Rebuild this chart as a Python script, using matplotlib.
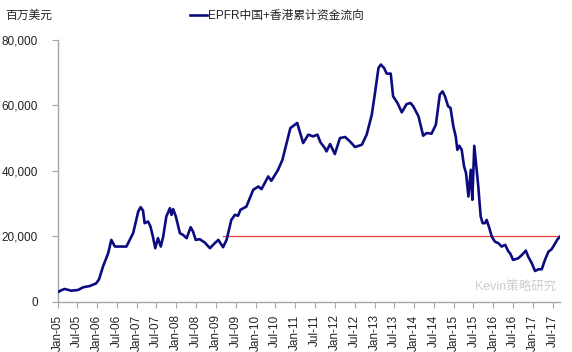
import matplotlib
matplotlib.use("Agg")
import matplotlib.pyplot as plt
import matplotlib.dates as mdates
import pandas as pd

plt.rcParams['font.family'] = ['Liberation Sans', 'Noto Sans CJK SC', 'DejaVu Sans']

dates = [
    "2005-01-01", "2005-02-06", "2005-03-07", "2005-05-08", "2005-07-09", "2005-08-25",
    "2005-10-27", "2005-12-24", "2006-01-19", "2006-02-24", "2006-04-13", "2006-05-12",
    "2006-06-14", "2006-07-28", "2006-09-28", "2006-11-29", "2007-01-15", "2007-02-06",
    "2007-02-28", "2007-03-15", "2007-04-16", "2007-05-08", "2007-05-30", "2007-06-21",
    "2007-07-16", "2007-08-11", "2007-09-02", "2007-10-01", "2007-11-03", "2007-11-18",
    "2007-12-03", "2007-12-28", "2008-01-19", "2008-02-03", "2008-03-03", "2008-04-05",
    "2008-05-12", "2008-06-03", "2008-06-28", "2008-08-04", "2008-09-20", "2008-11-06",
    "2008-12-20", "2009-01-22", "2009-03-07", "2009-04-08", "2009-05-22", "2009-06-24",
    "2009-07-23", "2009-08-14", "2009-10-08", "2009-12-10", "2010-01-26", "2010-02-24",
    "2010-04-27", "2010-05-26", "2010-07-27", "2010-09-05", "2010-11-17", "2011-01-19",
    "2011-03-15", "2011-05-01", "2011-06-14", "2011-07-24", "2011-08-22", "2011-10-01",
    "2011-10-16", "2011-11-18", "2012-01-01", "2012-02-17", "2012-04-05", "2012-05-19",
    "2012-07-05", "2012-09-06", "2012-10-20", "2012-12-06", "2013-01-05", "2013-02-06",
    "2013-02-28", "2013-03-29", "2013-04-23", "2013-05-30", "2013-06-21", "2013-07-31",
    "2013-09-09", "2013-10-23", "2013-11-28", "2013-12-24", "2014-02-10", "2014-03-25",
    "2014-04-27", "2014-06-10", "2014-07-20", "2014-08-25", "2014-09-20", "2014-10-12",
    "2014-11-10", "2014-12-02", "2014-12-28", "2015-01-19", "2015-02-03", "2015-02-21",
    "2015-03-15", "2015-04-06", "2015-04-24", "2015-05-16", "2015-06-07", "2015-06-21",
    "2015-07-09", "2015-07-31", "2015-08-15", "2015-09-06", "2015-09-24", "2015-10-16",
    "2015-10-31", "2015-11-25", "2015-12-17", "2016-01-15", "2016-02-17", "2016-03-17",
    "2016-04-19", "2016-05-19", "2016-06-03", "2016-07-01", "2016-08-18", "2016-09-20",
    "2016-10-26", "2016-11-17", "2016-12-20", "2017-01-19", "2017-02-21", "2017-03-22",
    "2017-04-20", "2017-05-23", "2017-06-21", "2017-07-24", "2017-08-15", "2017-09-06",
]
flows = [
    2960, 3600, 3970, 3450, 3660, 4480,
    4880, 5700, 6930, 10780, 14860, 18930,
    16900, 16900, 16900, 20970, 27570, 28900,
    27880, 24030, 24520, 22990, 19940, 16400,
    19450, 16900, 19940, 26050, 28600, 26560,
    28300, 26050, 22990, 20970, 20450, 19450,
    22800, 21460, 18930, 19140, 18100, 16400,
    17920, 18930, 16700, 18930, 25030, 26560,
    26300, 28090, 29100, 34200, 35200, 34400,
    38260, 36940, 40300, 43350, 53000, 54560,
    48450, 51000, 50470, 51000, 48640, 46920,
    45890, 48140, 45090, 49970, 50280, 48940,
    47230, 47930, 51000, 57000, 63700, 71350,
    72360, 71350, 69600, 69600, 62680, 60660,
    57800, 60300, 60660, 59620, 56570, 50680,
    51500, 51290, 54040, 63200, 64200, 62680,
    59620, 59130, 53520, 50470, 46400, 47600,
    46400, 41300, 39300, 32150, 40300, 31140,
    47600, 40300, 35200, 26050, 24030, 24030,
    25030, 22500, 19940, 18400, 17900, 16900,
    17400, 15360, 14860, 12820, 13340, 14350,
    15660, 13830, 11810, 9460, 9980, 9980,
    12820, 15360, 16090, 17920, 19140, 19940,
]
ref_dates = ["2009-03-07", "2017-09-06"]
ref_values = [20000, 20000]

series_label = "EPFR中国+香港累计资金流向"
unit_label = "百万美元"
watermark = "Kevin策略研究"
yticks = [0, 20000, 40000, 60000, 80000]

x = pd.to_datetime(dates)
xr = pd.to_datetime(ref_dates)

fig = plt.figure(figsize=(5.72, 3.52), dpi=100)
ax = fig.add_axes([57.5 / 572, 1 - 302 / 352, (560 - 57.5) / 572, (302 - 39.5) / 352])

ax.plot(xr, ref_values, color='#e8403a', lw=0.9, zorder=2)
line, = ax.plot(x, flows, color='#0c0c80', lw=1.9, zorder=3, label=series_label,
                solid_joinstyle='round')

ax.set_ylim(0, 80000)
ax.set_yticks(yticks)
ax.yaxis.set_major_formatter(matplotlib.ticker.FuncFormatter(lambda v, p: f"{int(v):,}"))
ax.set_xlim(pd.Timestamp("2005-01-01"), pd.Timestamp("2017-09-06"))
ax.xaxis.set_major_locator(mdates.MonthLocator(bymonth=[1, 7]))
ax.xaxis.set_major_formatter(mdates.DateFormatter('%b-%y'))

for s in ['top', 'right']:
    ax.spines[s].set_visible(False)
for s in ['left', 'bottom']:
    ax.spines[s].set_color('#a6a6a6')
    ax.spines[s].set_linewidth(1.0)

ax.tick_params(axis='y', direction='out', length=4, color='#a6a6a6', pad=10,
               labelsize=8.5, labelcolor='#222222')
ax.tick_params(axis='x', direction='out', length=4, color='#a6a6a6', pad=5,
               labelsize=8.5, labelcolor='#222222', labelrotation=90)

fig.text(5 / 572, 1 - 16 / 352, unit_label, fontsize=8.5, va='center', ha='left',
         color='#222222')
fig.legend(handles=[line], loc='center left', bbox_to_anchor=(190 / 572, 1 - 16 / 352),
           frameon=False, handlelength=1.4, handletextpad=0.15, borderpad=0,
           borderaxespad=0, fontsize=8.5, labelcolor='#222222')

fig.text(556 / 572, 1 - 288 / 352, watermark, fontsize=9, color='#b8b8b8',
         alpha=0.7, va='center', ha='right')

fig.savefig("out.png", dpi=100)
